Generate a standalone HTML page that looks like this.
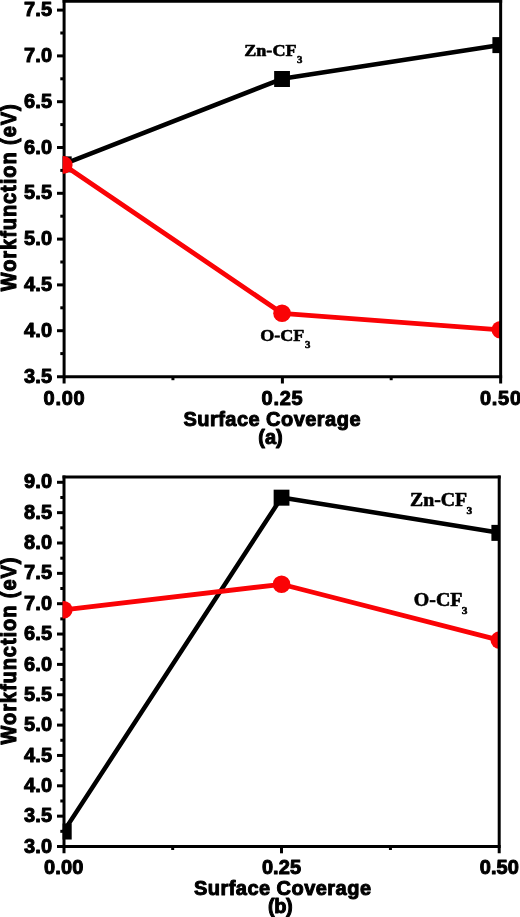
<!DOCTYPE html>
<html><head><meta charset="utf-8"><title>Workfunction vs Surface Coverage</title>
<style>
html,body{margin:0;padding:0;background:#fff;}
body{width:520px;height:917px;overflow:hidden;}
svg{display:block;}
.t{font-family:"Liberation Sans",Arial,Helvetica,sans-serif;font-weight:bold;fill:#000;stroke:#000;stroke-width:1px;stroke-linejoin:round;}
.s{font-family:"Liberation Serif","Times New Roman",Times,serif;font-weight:bold;fill:#000;stroke:#000;stroke-width:0.6px;stroke-linejoin:round;}
</style></head><body>
<svg width="520" height="917" viewBox="0 0 520 917">
<rect width="520" height="917" fill="#fff"/>

<defs><clipPath id="cp1"><rect x="62.7" y="1.2" width="437.95" height="375.5"/></clipPath></defs>
<g stroke="#000" stroke-width="3" fill="none" stroke-linecap="butt">
<line x1="64.1" y1="0" x2="64.1" y2="383.5"/>
<line x1="57" y1="376.7" x2="502.15" y2="376.7"/>
</g>
<g stroke="#000" stroke-width="3" fill="none">
<line x1="60.3" y1="353.6" x2="64" y2="353.6"/>
<line x1="57" y1="330.7" x2="64" y2="330.7"/>
<line x1="60.3" y1="307.8" x2="64" y2="307.8"/>
<line x1="57" y1="284.9" x2="64" y2="284.9"/>
<line x1="60.3" y1="262" x2="64" y2="262"/>
<line x1="57" y1="239.1" x2="64" y2="239.1"/>
<line x1="60.3" y1="216.2" x2="64" y2="216.2"/>
<line x1="57" y1="193.3" x2="64" y2="193.3"/>
<line x1="60.3" y1="170.4" x2="64" y2="170.4"/>
<line x1="57" y1="147.5" x2="64" y2="147.5"/>
<line x1="60.3" y1="124.6" x2="64" y2="124.6"/>
<line x1="57" y1="101.7" x2="64" y2="101.7"/>
<line x1="60.3" y1="78.8" x2="64" y2="78.8"/>
<line x1="57" y1="55.9" x2="64" y2="55.9"/>
<line x1="60.3" y1="33" x2="64" y2="33"/>
<line x1="57" y1="10.1" x2="64" y2="10.1"/>
<line x1="172.93" y1="376.7" x2="172.93" y2="380.2"/>
<line x1="391.18" y1="376.7" x2="391.18" y2="380.2"/>
<line x1="282.4" y1="376.7" x2="282.4" y2="383.5" stroke-width="3"/>
</g>
<g clip-path="url(#cp1)">
<polyline points="63.8,164.17 282.05,78.8 500.3,44.91" fill="none" stroke="#000" stroke-width="4.5" stroke-linejoin="round"/>
<rect x="55.9" y="156.37" width="15.8" height="16" fill="#000"/>
<rect x="274.15" y="71" width="15.8" height="16" fill="#000"/>
<rect x="492.4" y="37.11" width="15.8" height="16" fill="#000"/>
<polyline points="63.8,164.9 282.05,313.3 500.3,329.78" fill="none" stroke="#fa0306" stroke-width="4.8" stroke-linejoin="round"/>
<circle cx="63.8" cy="164.9" r="8.8" fill="#fa0306"/>
<circle cx="282.05" cy="313.3" r="8.8" fill="#fa0306"/>
<circle cx="500.3" cy="329.78" r="8.8" fill="#fa0306"/>
</g>
<g stroke="#000" stroke-width="3" fill="none">
<line x1="500.65" y1="0" x2="500.65" y2="383.5"/>
<line x1="62.6" y1="1.2" x2="502.15" y2="1.2"/>
</g>
<text class="t" x="52" y="382.6" font-size="20" text-anchor="end" textLength="28" lengthAdjust="spacing">3.5</text>
<text class="t" x="52" y="336.8" font-size="20" text-anchor="end" textLength="28" lengthAdjust="spacing">4.0</text>
<text class="t" x="52" y="291" font-size="20" text-anchor="end" textLength="28" lengthAdjust="spacing">4.5</text>
<text class="t" x="52" y="245.2" font-size="20" text-anchor="end" textLength="28" lengthAdjust="spacing">5.0</text>
<text class="t" x="52" y="199.4" font-size="20" text-anchor="end" textLength="28" lengthAdjust="spacing">5.5</text>
<text class="t" x="52" y="153.6" font-size="20" text-anchor="end" textLength="28" lengthAdjust="spacing">6.0</text>
<text class="t" x="52" y="107.8" font-size="20" text-anchor="end" textLength="28" lengthAdjust="spacing">6.5</text>
<text class="t" x="52" y="62" font-size="20" text-anchor="end" textLength="28" lengthAdjust="spacing">7.0</text>
<text class="t" x="52" y="16.2" font-size="20" text-anchor="end" textLength="28" lengthAdjust="spacing">7.5</text>
<text class="t" x="64.1" y="404.8" font-size="20" text-anchor="middle" textLength="41" lengthAdjust="spacing">0.00</text>
<text class="t" x="282.1" y="404.8" font-size="20" text-anchor="middle" textLength="41" lengthAdjust="spacing">0.25</text>
<text class="t" x="500.5" y="404.8" font-size="20" text-anchor="middle" textLength="41" lengthAdjust="spacing">0.50</text>
<text class="t" x="272" y="426.3" font-size="20" text-anchor="middle" textLength="177" lengthAdjust="spacing">Surface Coverage</text>
<text class="t" x="270.5" y="444.2" font-size="20" text-anchor="middle" textLength="24.5" lengthAdjust="spacing">(a)</text>
<text class="t" font-size="20" text-anchor="middle" textLength="187" lengthAdjust="spacing" transform="translate(16.2 197.8) rotate(-90) scale(1 1.12)">Workfunction (eV)</text>
<text class="s" x="244.2" y="56.3" font-size="17.2" textLength="52.4" lengthAdjust="spacingAndGlyphs">Zn-CF</text>
<text class="s" x="297.1" y="63.2" font-size="10.8">3</text>
<text class="s" x="260.2" y="341.2" font-size="17.2" textLength="44.2" lengthAdjust="spacingAndGlyphs">O-CF</text>
<text class="s" x="304.9" y="348.1" font-size="10.8">3</text>
<defs><clipPath id="cp2"><rect x="62.6" y="476.9" width="436.6" height="369.6"/></clipPath></defs>
<g stroke="#000" stroke-width="3" fill="none" stroke-linecap="butt">
<line x1="64" y1="475.4" x2="64" y2="853.3"/>
<line x1="57" y1="846.5" x2="500.7" y2="846.5"/>
</g>
<g stroke="#000" stroke-width="3" fill="none">
<line x1="60.3" y1="831.33" x2="64" y2="831.33"/>
<line x1="57" y1="816.15" x2="64" y2="816.15"/>
<line x1="60.3" y1="800.98" x2="64" y2="800.98"/>
<line x1="57" y1="785.8" x2="64" y2="785.8"/>
<line x1="60.3" y1="770.62" x2="64" y2="770.62"/>
<line x1="57" y1="755.45" x2="64" y2="755.45"/>
<line x1="60.3" y1="740.27" x2="64" y2="740.27"/>
<line x1="57" y1="725.1" x2="64" y2="725.1"/>
<line x1="60.3" y1="709.92" x2="64" y2="709.92"/>
<line x1="57" y1="694.75" x2="64" y2="694.75"/>
<line x1="60.3" y1="679.58" x2="64" y2="679.58"/>
<line x1="57" y1="664.4" x2="64" y2="664.4"/>
<line x1="60.3" y1="649.23" x2="64" y2="649.23"/>
<line x1="57" y1="634.05" x2="64" y2="634.05"/>
<line x1="60.3" y1="618.88" x2="64" y2="618.88"/>
<line x1="57" y1="603.7" x2="64" y2="603.7"/>
<line x1="60.3" y1="588.52" x2="64" y2="588.52"/>
<line x1="57" y1="573.35" x2="64" y2="573.35"/>
<line x1="60.3" y1="558.17" x2="64" y2="558.17"/>
<line x1="57" y1="543" x2="64" y2="543"/>
<line x1="60.3" y1="527.83" x2="64" y2="527.83"/>
<line x1="57" y1="512.65" x2="64" y2="512.65"/>
<line x1="60.3" y1="497.48" x2="64" y2="497.48"/>
<line x1="57" y1="482.3" x2="64" y2="482.3"/>
<line x1="172.68" y1="846.5" x2="172.68" y2="850"/>
<line x1="390.43" y1="846.5" x2="390.43" y2="850"/>
<line x1="281.5" y1="846.5" x2="281.5" y2="853.3" stroke-width="3"/>
</g>
<g clip-path="url(#cp2)">
<polyline points="63.8,831.33 281.55,497.48 499.3,532.68" fill="none" stroke="#000" stroke-width="4.5" stroke-linejoin="round"/>
<rect x="55.9" y="823.53" width="15.8" height="16" fill="#000"/>
<rect x="273.65" y="489.68" width="15.8" height="16" fill="#000"/>
<rect x="491.4" y="524.88" width="15.8" height="16" fill="#000"/>
<polyline points="63.8,609.77 281.55,584.28 499.3,640.12" fill="none" stroke="#fa0306" stroke-width="4.8" stroke-linejoin="round"/>
<circle cx="63.8" cy="609.77" r="8.8" fill="#fa0306"/>
<circle cx="281.55" cy="584.28" r="8.8" fill="#fa0306"/>
<circle cx="499.3" cy="640.12" r="8.8" fill="#fa0306"/>
</g>
<g stroke="#000" stroke-width="3" fill="none">
<line x1="499.2" y1="475.4" x2="499.2" y2="853.3"/>
<line x1="62.5" y1="476.9" x2="500.7" y2="476.9"/>
</g>
<text class="t" x="52" y="852.6" font-size="20" text-anchor="end" textLength="28" lengthAdjust="spacing">3.0</text>
<text class="t" x="52" y="822.25" font-size="20" text-anchor="end" textLength="28" lengthAdjust="spacing">3.5</text>
<text class="t" x="52" y="791.9" font-size="20" text-anchor="end" textLength="28" lengthAdjust="spacing">4.0</text>
<text class="t" x="52" y="761.55" font-size="20" text-anchor="end" textLength="28" lengthAdjust="spacing">4.5</text>
<text class="t" x="52" y="731.2" font-size="20" text-anchor="end" textLength="28" lengthAdjust="spacing">5.0</text>
<text class="t" x="52" y="700.85" font-size="20" text-anchor="end" textLength="28" lengthAdjust="spacing">5.5</text>
<text class="t" x="52" y="670.5" font-size="20" text-anchor="end" textLength="28" lengthAdjust="spacing">6.0</text>
<text class="t" x="52" y="640.15" font-size="20" text-anchor="end" textLength="28" lengthAdjust="spacing">6.5</text>
<text class="t" x="52" y="609.8" font-size="20" text-anchor="end" textLength="28" lengthAdjust="spacing">7.0</text>
<text class="t" x="52" y="579.45" font-size="20" text-anchor="end" textLength="28" lengthAdjust="spacing">7.5</text>
<text class="t" x="52" y="549.1" font-size="20" text-anchor="end" textLength="28" lengthAdjust="spacing">8.0</text>
<text class="t" x="52" y="518.75" font-size="20" text-anchor="end" textLength="28" lengthAdjust="spacing">8.5</text>
<text class="t" x="52" y="488.4" font-size="20" text-anchor="end" textLength="28" lengthAdjust="spacing">9.0</text>
<text class="t" x="63.7" y="874" font-size="20" text-anchor="middle" textLength="39.2" lengthAdjust="spacing">0.00</text>
<text class="t" x="281.5" y="874" font-size="20" text-anchor="middle" textLength="39.2" lengthAdjust="spacing">0.25</text>
<text class="t" x="499.3" y="874" font-size="20" text-anchor="middle" textLength="39.2" lengthAdjust="spacing">0.50</text>
<text class="t" x="282.5" y="894.6" font-size="20" text-anchor="middle" textLength="177" lengthAdjust="spacing">Surface Coverage</text>
<text class="t" x="280.3" y="913" font-size="20" text-anchor="middle" textLength="24.5" lengthAdjust="spacing">(b)</text>
<text class="t" font-size="20" text-anchor="middle" textLength="187" lengthAdjust="spacing" transform="translate(16.2 651) rotate(-90) scale(1 1.12)">Workfunction (eV)</text>
<text class="s" x="410" y="505.7" font-size="19" textLength="57.2" lengthAdjust="spacingAndGlyphs">Zn-CF</text>
<text class="s" x="466.6" y="513.5" font-size="11.4">3</text>
<text class="s" x="413.8" y="606.1" font-size="19" textLength="48.6" lengthAdjust="spacingAndGlyphs">O-CF</text>
<text class="s" x="461.8" y="613.9" font-size="11.4">3</text>
</svg>
</body></html>
